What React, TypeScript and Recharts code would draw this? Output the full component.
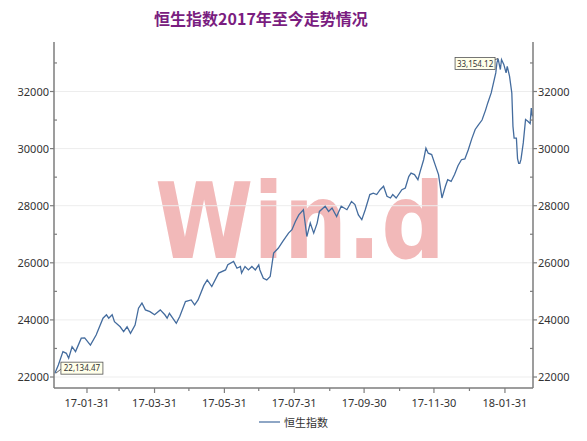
import { LineChart, Line, XAxis, YAxis, CartesianGrid, Legend } from 'recharts';

// Hang Seng Index, Jan 2017 - Feb 2018
const dates = [
  '2017-01-03', '2017-01-06', '2017-01-10', '2017-01-13', '2017-01-15', '2017-01-18', '2017-01-21', '2017-01-26', '2017-01-29',
  '2017-02-03', '2017-02-08', '2017-02-14', '2017-02-17', '2017-02-19', '2017-02-22', '2017-02-24',
  '2017-03-01', '2017-03-04', '2017-03-07', '2017-03-10', '2017-03-14', '2017-03-17', '2017-03-20', '2017-03-23', '2017-03-27', '2017-03-31',
  '2017-04-05', '2017-04-09', '2017-04-11', '2017-04-13', '2017-04-18', '2017-04-19', '2017-04-22', '2017-04-27',
  '2017-05-02', '2017-05-05', '2017-05-08', '2017-05-13', '2017-05-16', '2017-05-20', '2017-05-26',
  '2017-06-01', '2017-06-03', '2017-06-08', '2017-06-11', '2017-06-14', '2017-06-15', '2017-06-18', '2017-06-21', '2017-06-24', '2017-06-27', '2017-06-30',
  '2017-07-01', '2017-07-04', '2017-07-07', '2017-07-10', '2017-07-13', '2017-07-17', '2017-07-21', '2017-07-26', '2017-07-29',
  '2017-08-01', '2017-08-04', '2017-08-08', '2017-08-11', '2017-08-14', '2017-08-17', '2017-08-20', '2017-08-22', '2017-08-27', '2017-08-30',
  '2017-09-02', '2017-09-06', '2017-09-10', '2017-09-15', '2017-09-19', '2017-09-22', '2017-09-25', '2017-09-28',
  '2017-10-01', '2017-10-05', '2017-10-08', '2017-10-11', '2017-10-14', '2017-10-17', '2017-10-20', '2017-10-23', '2017-10-25', '2017-10-28',
  '2017-11-02', '2017-11-05', '2017-11-08', '2017-11-10', '2017-11-13', '2017-11-16', '2017-11-18', '2017-11-21', '2017-11-23', '2017-11-25', '2017-11-28',
  '2017-12-01', '2017-12-04', '2017-12-07', '2017-12-10', '2017-12-12', '2017-12-15', '2017-12-18', '2017-12-21', '2017-12-24', '2017-12-27', '2017-12-30',
  '2018-01-02', '2018-01-05', '2018-01-08', '2018-01-11', '2018-01-14', '2018-01-16', '2018-01-19', '2018-01-21', '2018-01-23', '2018-01-24', '2018-01-25', '2018-01-27', '2018-01-28', '2018-01-30',
  '2018-02-01', '2018-02-02', '2018-02-04', '2018-02-06', '2018-02-07', '2018-02-08', '2018-02-10', '2018-02-11', '2018-02-12', '2018-02-13', '2018-02-14', '2018-02-16', '2018-02-18', '2018-02-20', '2018-02-22', '2018-02-23', '2018-02-24',
];

const hsi = [
  22134.47, 22420, 22890, 22830, 22660, 23060, 22890, 23360, 23370,
  23120, 23470, 24060, 24180, 24060, 24180, 23940,
  23760, 23590, 23760, 23530, 23820, 24410, 24590, 24350, 24290, 24180,
  24350, 24180, 24060, 24230, 23940, 23880, 24120, 24640,
  24700, 24530, 24700, 25200, 25400, 25170, 25640,
  25750, 25930, 26050, 25810, 25870, 25640, 25870, 25750, 25870, 25750, 25930,
  25750, 25460, 25400, 25520, 26340, 26510, 26750, 27040, 27160,
  27450, 27680, 27860, 26920, 27390, 27040, 27390, 27800, 27980, 27800,
  27920, 27620, 27980, 27860, 28150, 28040, 27680, 27510,
  27860, 28390, 28440, 28390, 28560, 28680, 28330, 28270, 28390, 28270,
  28560, 28620, 29020, 29140, 29090, 28910, 29200, 29610, 30020, 29840, 29790,
  29440, 29090, 28270, 28680, 28910, 28850, 29090, 29400, 29610, 29640, 29960,
  30340, 30670, 30840, 31000, 31340, 31600, 31950, 32300, 32650, 33000, 33154.12, 32770, 33120, 32950,
  32650, 32880, 32540, 31950, 30780, 30370, 30370, 29650, 29480, 29480, 29620, 30200, 31020, 30960, 30880, 31420, 31130,
];

// month ends; every other one carries a label
const monthEnds = [
  '2017-01-31', '2017-02-28', '2017-03-31', '2017-04-30', '2017-05-31', '2017-06-30', '2017-07-31',
  '2017-08-31', '2017-09-30', '2017-10-31', '2017-11-30', '2017-12-31', '2018-01-31',
];
const yTicks = [22000, 23000, 24000, 25000, 26000, 27000, 28000, 29000, 30000, 31000, 32000, 33000];

const BASE = Date.parse('2017-01-01');
const toDay = (s: string) => (Date.parse(s) - BASE) / 86400000;

const data = dates.map((d, i) => ({ day: toDay(d), date: d, value: hsi[i] }));
const xTicks = monthEnds.map(toDay);
const majorX = new Set(monthEnds.filter((_, i) => i % 2 === 0).map(toDay));
const gridValues = yTicks.filter((v) => v % 2000 === 0);

const peakIndex = hsi.indexOf(Math.max(...hsi));

const AXIS = '#7d7d7d';
const LINE = '#446c9e';
const FONT = "'Noto Sans', 'Noto Sans CJK SC', sans-serif";

const fmt = (v: number) => v.toLocaleString('en-US', { minimumFractionDigits: 2, maximumFractionDigits: 2 });

function BottomTick({ x, y, payload }: any) {
  const major = majorX.has(payload.value);
  const label = monthEnds[xTicks.indexOf(payload.value)].slice(2);
  return (
    <g>
      <line x1={x} x2={x} y1={y} y2={y + (major ? 5 : 3)} stroke={AXIS} strokeWidth={1.2} />
      {major && (
        <text x={x} y={y + 19} textAnchor="middle" fontSize={11} fill="#333" fontFamily={FONT}>
          {label}
        </text>
      )}
    </g>
  );
}

function LeftTick({ x, y, payload }: any) {
  const major = payload.value % 2000 === 0;
  return (
    <g>
      {major ? (
        <line x1={x - 4} x2={x} y1={y} y2={y} stroke={AXIS} strokeWidth={1.2} />
      ) : (
        <line x1={x} x2={x + 3} y1={y} y2={y} stroke={AXIS} strokeWidth={1.2} />
      )}
      {major && (
        <text x={x - 5} y={y + 4} textAnchor="end" fontSize={11} fill="#333" fontFamily={FONT}>
          {payload.value}
        </text>
      )}
    </g>
  );
}

function RightTick({ x, y, payload }: any) {
  const major = payload.value % 2000 === 0;
  return (
    <g>
      {major ? (
        <line x1={x} x2={x + 4} y1={y} y2={y} stroke={AXIS} strokeWidth={1.2} />
      ) : (
        <line x1={x - 3} x2={x} y1={y} y2={y} stroke={AXIS} strokeWidth={1.2} />
      )}
      {major && (
        <text x={x + 5} y={y + 4} textAnchor="start" fontSize={11} fill="#333" fontFamily={FONT}>
          {payload.value}
        </text>
      )}
    </g>
  );
}

// value notes on the first point and the peak
function NoteDot(props: any) {
  const { cx, cy, index, value } = props;
  const v = Array.isArray(value) ? value[1] : value;
  if (index === 0) {
    return (
      <g key={`note-${index}`}>
        <line x1={cx + 6} y1={cy - 4} x2={cx + 1} y2={cy} stroke="#333" strokeWidth={0.8} />
        <rect x={cx + 6} y={cy - 11} width={42} height={12} fill="#ffffea" stroke="#555" strokeWidth={0.8} />
        <text x={cx + 27} y={cy - 2} textAnchor="middle" fontSize={8} fill="#333" fontFamily={FONT}>
          {fmt(v)}
        </text>
      </g>
    );
  }
  if (index === peakIndex) {
    return (
      <g key={`note-${index}`}>
        <line x1={cx - 3} y1={cy + 1} x2={cx} y2={cy} stroke="#333" strokeWidth={0.8} />
        <rect x={cx - 43} y={cy - 1} width={40} height={12} fill="#ffffea" stroke="#555" strokeWidth={0.8} />
        <text x={cx - 23} y={cy + 8} textAnchor="middle" fontSize={8} fill="#333" fontFamily={FONT}>
          {fmt(v)}
        </text>
      </g>
    );
  }
  return <g key={`note-${index}`} />;
}

function renderLegend() {
  return (
    <div style={{ display: 'flex', justifyContent: 'center', alignItems: 'center', fontFamily: FONT, fontSize: 11, color: '#333' }}>
      <svg width={21} height={10}>
        <line x1={0} x2={21} y1={5} y2={5} stroke={LINE} strokeWidth={1.2} />
      </svg>
      <span style={{ marginLeft: 4 }}>恒生指数</span>
    </div>
  );
}

export default function App() {
  return (
    <div style={{ position: 'absolute', left: 0, top: 0, width: 587, height: 441, background: '#fff', overflow: 'hidden' }}>
      <div
        style={{
          position: 'absolute', left: 0, top: 6, width: 522, textAlign: 'center',
          fontFamily: "'Noto Sans CJK SC', sans-serif", fontWeight: 700, fontSize: 16, color: '#7a1d80',
        }}
      >
        恒生指数2017年至今走势情况
      </div>
      <svg width={587} height={441} style={{ position: 'absolute', left: 0, top: 0 }}>
        <text
          x={155} y={258} fontSize={106} fontWeight={700} fill="#ec9494" opacity={0.65}
          fontFamily="'DejaVu Sans', sans-serif" textLength={290} lengthAdjust="spacingAndGlyphs"
        >
          Win.d
        </text>
      </svg>
      <div style={{ position: 'absolute', left: 0, top: 0 }}>
        <LineChart width={587} height={441} data={data} margin={{ top: 42, right: 4, bottom: 31, left: 4 }}>
          <CartesianGrid yAxisId="left" vertical={false} horizontalValues={gridValues} stroke="#ededed" />
          <XAxis
            dataKey="day" type="number" domain={[1.2, 419.5]} allowDataOverflow ticks={xTicks} interval={0}
            height={22} tickSize={0} tickMargin={0} tick={<BottomTick />}
            axisLine={{ stroke: AXIS, strokeWidth: 1.5 }} tickLine={false}
          />
          <YAxis
            yAxisId="left" orientation="left" type="number" domain={[21615, 33734]} allowDataOverflow
            ticks={yTicks} interval={0} width={50} tickSize={0} tickMargin={0} tick={<LeftTick />}
            axisLine={{ stroke: AXIS, strokeWidth: 1.5 }} tickLine={false}
          />
          <YAxis
            yAxisId="right" orientation="right" type="number" domain={[21615, 33734]} allowDataOverflow
            ticks={yTicks} interval={0} width={50} tickSize={0} tickMargin={0} tick={<RightTick />}
            axisLine={{ stroke: AXIS, strokeWidth: 1.5 }} tickLine={false}
          />
          <Legend verticalAlign="middle" content={renderLegend} wrapperStyle={{ top: 414, left: 0, width: 587 }} />
          <Line
            yAxisId="left" type="linear" dataKey="value" name="恒生指数" stroke={LINE} strokeWidth={1.3}
            dot={NoteDot} activeDot={false} isAnimationActive={false}
          />
        </LineChart>
      </div>
    </div>
  );
}
